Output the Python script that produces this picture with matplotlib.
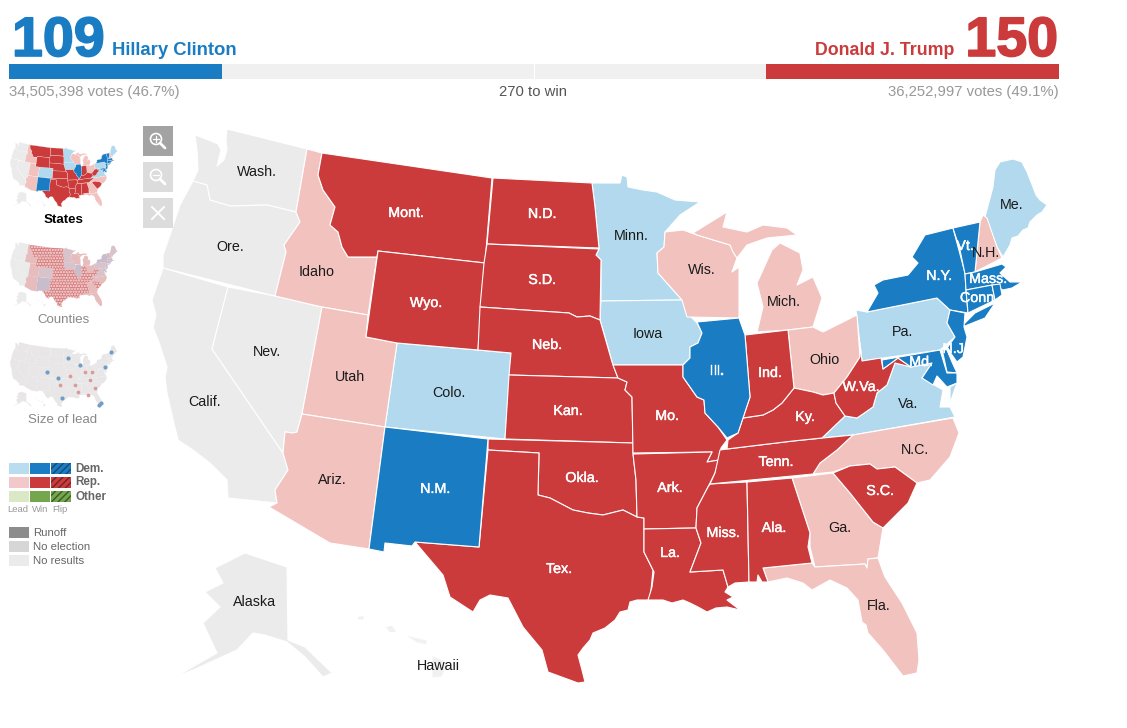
import matplotlib
matplotlib.use("Agg")
import matplotlib.pyplot as plt
from matplotlib.patches import Polygon, Rectangle, Circle
import matplotlib.patheffects as pe

plt.rcParams["font.family"] = ["Liberation Sans", "DejaVu Sans"]
plt.rcParams["hatch.linewidth"] = 1.0

# electoral votes and header text
TOTAL_VOTES = 538
CLINTON_EV = 109
TRUMP_EV = 150
WIN_MARK = 270

# state outlines, traced in image pixels
WA = [(195,135),(206,139),(218,144),(221,150),(217,166),(224,160),(227,150),(226,140),(227,129),(307,149),(296,212),(267,205),(230,206),(210,200),(207,185),(193,181),(198,170),(197,150)]
OR = [(193,181),(207,185),(210,200),(230,206),(267,205),(296,212),(300,222),(284,245),(286,252),(275,296),(163,268),(163,255),(170,235),(180,205)]
CA = [(163,268),(228,287),(212,349),(283,453),(288,470),(275,490),(277,503),(228,498),(227,480),(210,463),(193,450),(178,440),(172,415),(167,393),(165,378),(167,367),(160,345),(153,327),(156,315),(152,300)]
NV = [(228,287),(275,296),(322,307),(302,414),(297,432),(293,433),(285,432),(283,453),(212,349)]
ID = [(307,149),(322,153),(318,175),(323,190),(335,207),(330,225),(338,232),(342,247),(348,257),(360,257),(377,257),(368,315),(322,307),(275,296),(286,252),(284,245),(300,222),(296,212)]
MT = [(322,153),(492,178),(485,263),(378,251),(377,257),(360,257),(348,257),(342,247),(338,232),(330,225),(335,207),(323,190),(318,175)]
WY = [(378,251),(485,263),(478,350),(397,343),(366,337)]
UT = [(322,307),(368,315),(366,337),(397,343),(385,427),(302,414)]
CO = [(397,343),(478,350),(511,353),(505,439),(385,427)]
AZ = [(302,414),(385,427),(369,549),(330,543),(269,507),(277,503),(275,490),(288,470),(283,453),(285,432),(293,433),(297,432)]
NM = [(385,427),(488,439),(479,547),(415,542),(412,546),(385,543),(384,552),(369,549)]
TX = [(488,450),(539,453),(538,495),(550,498),(573,510),(588,513),(603,515),(623,510),(637,517),(644,518),(644,552),(653,570),(650,600),(637,600),(630,602),(628,610),(620,612),(615,620),(605,628),(593,633),(590,640),(583,648),(578,655),(582,670),(585,682),(578,683),(548,672),(542,650),(523,627),(508,598),(490,595),(480,600),(473,612),(450,597),(443,575),(415,542),(479,547)]
OK = [(488,439),(633,443),(633,453),(636,480),(637,517),(623,510),(603,515),(588,513),(573,510),(550,498),(538,495),(539,453),(488,450)]
KS = [(509,375),(618,378),(627,382),(625,390),(632,397),(633,443),(505,439)]
NE = [(480,307),(569,313),(577,317),(590,316),(600,320),(612,362),(618,378),(509,375),(511,353),(478,350)]
SD = [(487,244),(599,249),(596,255),(601,260),(600,320),(590,316),(577,317),(569,313),(480,307),(484,263)]
ND = [(493,178),(592,183),(595,207),(599,248),(487,244)]
MN = [(592,183),(620,183),(622,175),(627,177),(628,187),(643,190),(657,192),(675,200),(700,202),(680,215),(665,232),(664,247),(657,253),(658,273),(682,300),(601,301),(601,260),(596,255),(599,249),(595,207)]
IA = [(601,301),(682,300),(687,313),(697,323),(702,333),(698,343),(690,347),(690,358),(683,365),(613,365),(603,330),(600,320)]
MO = [(613,365),(683,365),(683,377),(697,397),(704,400),(705,413),(718,427),(727,440),(721,448),(719,460),(707,462),(712,452),(633,453),(632,397),(625,390),(627,382),(618,378)]
AR = [(633,454),(712,452),(707,462),(719,460),(715,473),(708,487),(697,508),(696,528),(644,529),(644,518),(637,517),(636,480)]
LA = [(644,529),(696,528),(701,543),(690,572),(723,570),(728,587),(725,592),(733,597),(727,600),(740,610),(727,607),(716,608),(707,612),(698,607),(690,603),(683,600),(672,603),(663,600),(648,600),(652,587),(654,572),(644,552)]
MS = [(710,484),(747,482),(749,582),(735,583),(728,587),(723,570),(690,572),(701,543),(696,528),(697,508),(708,487)]
AL = [(747,482),(792,478),(810,533),(808,547),(812,563),(763,568),(768,582),(762,582),(758,575),(757,582),(749,582)]
TN = [(720,450),(727,449),(793,441),(853,435),(837,450),(820,463),(813,474),(710,484),(715,473)]
KY = [(727,449),(728,440),(738,433),(743,418),(763,415),(773,410),(782,403),(794,388),(813,392),(823,395),(834,393),(836,403),(845,416),(822,438),(793,441)]
VA = [(822,438),(845,416),(857,418),(873,407),(877,393),(887,385),(895,363),(911,367),(932,363),(922,378),(943,390),(940,407),(950,407),(955,417),(853,435)]
VA_SHORE = [(950,387),(957,383),(950,403)]
WV = [(860,343),(862,361),(881,358),(883,369),(898,358),(911,367),(895,363),(887,385),(877,393),(873,407),(857,418),(845,416),(836,403),(834,393),(847,377),(860,357)]
MD = [(882,360),(940,350),(947,373),(957,373),(957,383),(947,387),(937,376),(933,385),(922,378),(932,363),(911,367),(898,358),(883,369)]
DE = [(942,349),(947,372),(957,373),(952,362),(947,350)]
NJ = [(950,310),(965,313),(964,327),(967,337),(963,357),(957,362),(947,348),(955,337),(947,323)]
PA = [(856,310),(867,312),(937,298),(950,310),(947,323),(955,337),(940,350),(862,361)]
NY = [(867,312),(878,293),(874,285),(883,280),(908,275),(918,263),(912,257),(925,235),(953,228),(965,273),(966,290),(968,313),(950,310),(937,298)]
LONG_ISLAND = [(963,325),(975,313),(995,303),(985,318),(965,326)]
VT = [(953,228),(980,222),(975,272),(965,274),(960,250)]
NH = [(980,222),(983,215),(987,218),(997,247),(1002,258),(975,272)]
ME = [(985,217),(993,187),(995,170),(1000,162),(1013,159),(1022,162),(1027,172),(1033,187),(1036,195),(1040,200),(1047,205),(1042,212),(1037,215),(1030,222),(1028,228),(1023,230),(1018,236),(1012,238),(1010,245),(1003,257),(997,247)]
MA = [(965,274),(975,272),(1002,264),(1006,267),(1000,273),(1010,282),(1022,282),(1012,288),(1003,290),(993,285),(966,290)]
CT = [(966,290),(992,285),(995,300),(968,313)]
RI = [(992,285),(1000,284),(1002,295),(995,300)]
NC = [(853,435),(953,418),(959,433),(950,457),(930,480),(917,483),(895,467),(877,469),(870,464),(850,466),(833,472),(813,474),(820,463),(837,450)]
SC = [(833,473),(850,466),(870,464),(877,469),(895,467),(917,483),(908,503),(883,528),(873,522),(850,493)]
GA = [(792,478),(833,473),(850,493),(873,522),(883,528),(878,558),(868,559),(867,568),(865,564),(815,567),(810,547),(810,533)]
FL = [(763,568),(812,563),(815,567),(865,564),(867,568),(868,559),(878,558),(885,577),(902,603),(917,633),(919,660),(917,673),(903,676),(883,650),(868,633),(866,625),(862,622),(858,600),(847,588),(830,580),(812,590),(803,583),(787,578),(768,582)]
IL = [(697,322),(739,318),(745,335),(750,397),(743,418),(738,433),(727,438),(718,427),(705,413),(704,400),(697,397),(683,377),(683,365),(690,358),(690,347),(698,343),(702,333)]
IN = [(745,335),(788,330),(794,388),(782,403),(773,410),(763,415),(743,418),(750,397)]
OH = [(788,330),(813,327),(823,332),(857,315),(860,357),(847,377),(834,393),(823,395),(813,392),(794,388)]
MI_LOWER = [(757,332),(763,307),(757,283),(772,250),(780,243),(800,253),(803,270),(797,285),(813,277),(822,298),(813,327),(788,330)]
MI_UPPER = [(693,233),(727,212),(723,227),(747,232),(763,225),(787,228),(797,235),(767,238),(747,245),(737,258),(733,252),(730,245),(697,235)]
WI = [(665,232),(683,230),(697,235),(730,245),(737,258),(732,272),(739,267),(739,318),(687,317),(682,300),(658,273),(657,253),(664,247)]
AK = [(215,568),(245,553),(287,567),(288,640),(305,647),(332,673),(323,677),(305,657),(287,642),(265,635),(253,633),(237,650),(193,670),(175,677),(217,653),(203,623),(220,607),(205,592),(223,583)]
HI_BIG = [(432,655),(448,663),(442,677),(432,678)]
HI_MAUI = [(405,635),(427,640),(427,645),(417,643)]
HI_OAHU = [(385,627),(392,625),(397,632),(390,633)]
HI_KAUAI = [(357,617),(364,615),(364,620),(358,620)]

DEM_LEAD = [CO, MN, IA, PA, VA, VA_SHORE, ME]
DEM_WIN = [NM, IL, NY, LONG_ISLAND, VT, MA, CT, RI, NJ, DE, MD]
REP_LEAD = [ID, UT, AZ, WI, MI_LOWER, MI_UPPER, OH, NC, GA, FL, NH]
REP_WIN = [MT, WY, ND, SD, NE, KS, OK, TX, MO, AR, LA, MS, AL, TN, KY, IN, WV, SC]
NO_RESULTS = [WA, OR, CA, NV, AK]
HAWAII = [HI_BIG, HI_MAUI, HI_OAHU, HI_KAUAI]

BLUE_LIGHT = "#b2d9ed"
BLUE = "#1a7dc4"
PINK = "#f2c2bf"
RED = "#cc3b3c"
GRAY = "#ebebeb"

# labels on the map
DARK_NAMES = ["Wash.", "Ore.", "Calif.", "Nev.", "Idaho", "Utah", "Ariz.", "Colo.", "Minn.", "Iowa", "Wis.", "Mich.", "Ohio", "Va.", "N.C.", "Ga.", "Fla.", "Pa.", "N.H.", "Me.", "Alaska", "Hawaii"]
DARK_X = [257, 230, 205, 267, 317, 350, 332, 449, 631, 648, 702, 784, 824, 908, 915, 840, 879, 903, 986, 1012, 255, 438]
DARK_Y = [172, 247, 402, 352, 272, 377, 480, 393, 236, 334, 270, 302, 360, 404, 450, 528, 606, 332, 253, 205, 602, 666]
LIGHT_NAMES = ["Mont.", "Wyo.", "N.M.", "N.D.", "S.D.", "Neb.", "Kan.", "Okla.", "Tex.", "Mo.", "Ark.", "La.", "Ill.", "Miss.", "Tenn.", "Ala.", "Ky.", "Ind.", "W.Va.", "S.C.", "N.Y.", "Vt.", "Mass.", "Conn.", "N.J.", "Md."]
LIGHT_X = [406, 426, 435, 542, 542, 547, 568, 582, 559, 667, 670, 670, 717, 723, 776, 774, 805, 770, 861, 880, 939, 965, 988, 979, 955, 921]
LIGHT_Y = [213, 303, 489, 214, 280, 345, 411, 478, 569, 416, 488, 553, 371, 533, 462, 528, 417, 373, 387, 491, 276, 246, 279, 298, 349, 362]

# blue and red specks of the "size of lead" thumbnail
LEAD_BLUE_X = [80, 105, 101, 47, 68, 62, 99, 58, 111]
LEAD_BLUE_Y = [365, 367, 403, 372, 358, 398, 405, 378, 352]
LEAD_RED_X = [70, 85, 90, 95, 78, 88, 60, 75, 92]
LEAD_RED_Y = [376, 372, 380, 388, 392, 395, 385, 385, 372]

fig = plt.figure(figsize=(11.27, 7.28), dpi=100)
ax = fig.add_axes([0, 0, 1, 1])
ax.set_xlim(0, 1127)
ax.set_ylim(728, 0)
ax.axis("off")


def fill_states(groups, sx=1.0, sy=1.0, dx=0.0, dy=0.0, lw=0.8, hatch=None):
    for shapes, col in groups:
        for s in shapes:
            pts = [(x*sx + dx, y*sy + dy) for x, y in s]
            edge = "#f6e4e4" if hatch else ("white" if lw > 0 else col)
            ax.add_patch(Polygon(pts, closed=True, facecolor=col, edgecolor=edge, lw=lw, joinstyle="round", hatch=hatch))


# main map
fill_states([(NO_RESULTS, GRAY), (HAWAII, "#f1f1f1"), (DEM_LEAD, BLUE_LIGHT), (REP_LEAD, PINK), (REP_WIN, RED), (DEM_WIN, BLUE)])
for n, x, y in zip(DARK_NAMES, DARK_X, DARK_Y):
    ax.text(x, y, n, ha="center", va="center", fontsize=10.3, color="#1a1a1a")
for n, x, y in zip(LIGHT_NAMES, LIGHT_X, LIGHT_Y):
    ax.text(x, y, n, ha="center", va="center", fontsize=10.3, color="white",
            path_effects=[pe.withStroke(linewidth=0.3, foreground="white")])

# header
bar = fig.add_axes([9/1127, 1 - 79/728, 1050/1127, 15/728])
bar.set_xlim(0, TOTAL_VOTES)
bar.set_ylim(0, 1)
bar.axis("off")
bar.barh(0.5, TOTAL_VOTES, height=1, color="#f0f0f0")
bar.barh(0.5, CLINTON_EV, height=1, color=BLUE)
bar.barh(0.5, TRUMP_EV, left=TOTAL_VOTES - TRUMP_EV, height=1, color=RED)
bar.axvline(WIN_MARK - 1, color="white", lw=0.8)

thick_blue = [pe.withStroke(linewidth=1.2, foreground=BLUE)]
thick_red = [pe.withStroke(linewidth=1.2, foreground=RED)]
ax.text(12, 56, str(CLINTON_EV), fontsize=40, fontweight="bold", color=BLUE, va="baseline", path_effects=thick_blue)
ax.text(112, 55, "Hillary Clinton", fontsize=13.3, fontweight="bold", color=BLUE, va="baseline")
ax.text(1058, 56, str(TRUMP_EV), fontsize=40, fontweight="bold", color=RED, va="baseline", ha="right", path_effects=thick_red)
ax.text(954, 55, "Donald J. Trump", fontsize=12.8, fontweight="bold", color=RED, va="baseline", ha="right")
ax.text(9, 92, "34,505,398 votes (46.7%)", fontsize=10.7, color="#999999", va="center")
ax.text(533, 92, "270 to win", fontsize=10.7, color="#555555", va="center", ha="center")
ax.text(1059, 92, "36,252,997 votes (49.1%)", fontsize=10.7, color="#999999", va="center", ha="right")

# thumbnails
TH_SX = 0.12
TH_SY = 0.117
fill_states([(NO_RESULTS + HAWAII, GRAY), (DEM_LEAD, BLUE_LIGHT), (REP_LEAD, PINK), (REP_WIN, RED), (DEM_WIN, BLUE)],
            TH_SX, TH_SY, -8.2, 127, lw=0.15)
fill_states([(NO_RESULTS + HAWAII, GRAY), (DEM_LEAD, "#d9c3cb"), (REP_LEAD, "#e6bcbc"), (DEM_WIN, "#c9bccb")],
            TH_SX, TH_SY, -8.2, 227, lw=0)
fill_states([(REP_WIN, "#d97f80")], TH_SX, TH_SY, -8.2, 227, lw=0, hatch="......")
fill_states([(NO_RESULTS + HAWAII + DEM_LEAD + DEM_WIN + REP_LEAD + REP_WIN, "#e8e6e6")],
            TH_SX, TH_SY, -8.2, 327, lw=0)
ax.scatter(LEAD_BLUE_X, LEAD_BLUE_Y, s=9, color="#6f9fc8", lw=0)
ax.scatter(LEAD_RED_X, LEAD_RED_Y, s=7, color="#d89a9a", lw=0)
ax.text(63, 220, "States", fontsize=9.6, fontweight="bold", color="black", ha="center", va="center")
ax.text(63, 320, "Counties", fontsize=9.5, color="#888888", ha="center", va="center")
ax.text(63, 420, "Size of lead", fontsize=9.5, color="#888888", ha="center", va="center")

# zoom buttons
ax.add_patch(Rectangle((143, 126), 30, 30, facecolor="#a3a3a3", lw=0))
ax.add_patch(Rectangle((143, 162), 30, 30, facecolor="#dcdcdc", lw=0))
ax.add_patch(Rectangle((143, 198), 30, 30, facecolor="#dcdcdc", lw=0))
for cy, plus in [(139, True), (175, False)]:
    ax.add_patch(Circle((156, cy), 5.5, facecolor="none", edgecolor="white", lw=1.2))
    ax.plot([160, 165], [cy + 4, cy + 9], color="white", lw=2, solid_capstyle="round")
    ax.plot([153, 159], [cy, cy], color="white", lw=0.9)
    if plus:
        ax.plot([156, 156], [cy - 3, cy + 3], color="white", lw=0.9)
ax.plot([152, 164], [207, 219], color="white", lw=1.4)
ax.plot([152, 164], [219, 207], color="white", lw=1.4)

# legend
ROW_Y = [463, 477, 491]
ROW_NAMES = ["Dem.", "Rep.", "Other"]
ROW_COLORS = [("#b9dcee", BLUE), ("#f2c8ca", RED), ("#dbe8c5", "#73a64d")]
HATCH_DARK = ["#17496e", "#6e2526", "#3a5a26"]
for y, n, (c1, c2), hd in zip(ROW_Y, ROW_NAMES, ROW_COLORS, HATCH_DARK):
    ax.add_patch(Rectangle((9, y), 20, 11, facecolor=c1, lw=0))
    ax.add_patch(Rectangle((30, y), 20, 11, facecolor=c2, lw=0))
    ax.add_patch(Rectangle((51, y), 20, 11, facecolor=c2, edgecolor=hd, hatch="/////", lw=0))
    ax.text(75, y + 5.5, n, fontsize=8.4, fontweight="bold", color="#666666", va="center")
for x, n in zip([18, 40, 60], ["Lead", "Win", "Flip"]):
    ax.text(x, 510, n, fontsize=6.8, color="#999999", ha="center", va="center")
for y, c, n in zip([527, 541, 555], ["#8c8c8c", "#d6d6d6", "#ebebeb"], ["Runoff", "No election", "No results"]):
    ax.add_patch(Rectangle((9, y), 20, 11, facecolor=c, lw=0))
    ax.text(33, y + 5.5, n, fontsize=8.2, color="#666666", va="center")

fig.savefig("out.png", dpi=100)
